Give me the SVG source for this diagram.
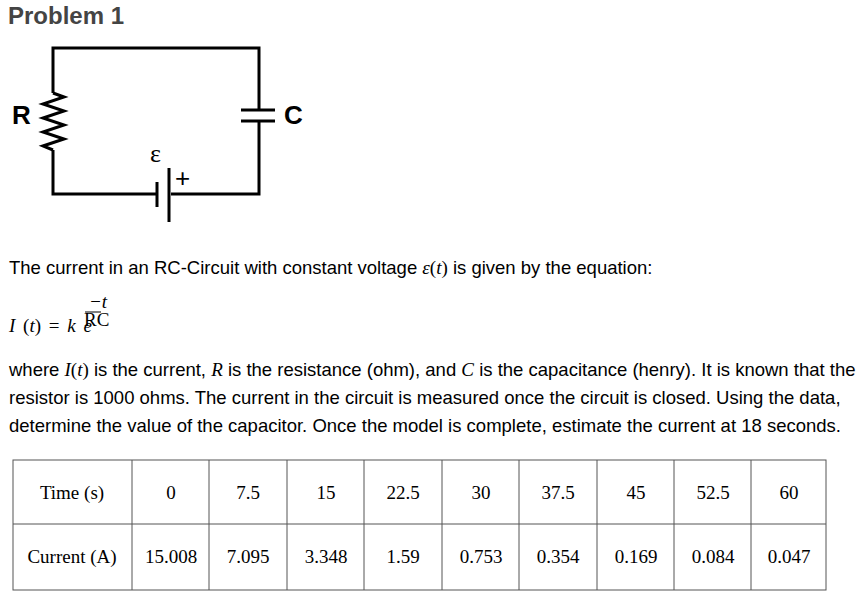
<svg xmlns="http://www.w3.org/2000/svg" width="864" height="605" viewBox="0 0 864 605">
<style>
.w{fill:none;stroke:#000;stroke-width:3}
.s{font-family:"Liberation Sans",Arial,sans-serif;font-size:18.5px;fill:#000}
.m{font-family:"Liberation Serif","Times New Roman",serif;font-size:19px;fill:#000}
.g{stroke:#555;stroke-width:1;fill:none}
</style>
<rect width="864" height="605" fill="#fff"/>
<text x="8" y="24" font-family="Liberation Sans,Arial,sans-serif" font-weight="bold" font-size="24" fill="#444">Problem 1</text>
<g id="circuit">
<path class="w" d="M53,93 V48 H259 V110 M259,121 V194 H171 M157,194 H53 V150"/>
<path class="w" d="M53,93 L64,97 L43,104 L64,111 L43,118 L64,125 L43,132 L64,139 L43,146 L53,150"/>
<path class="w" d="M241,110 H275 M241,121 H275"/>
<path class="w" d="M157,182 V207 M169,168 V222"/>
</g>
<text x="12" y="124" font-family="Liberation Sans,Arial,sans-serif" font-weight="bold" font-size="26">R</text>
<text x="284" y="124" font-family="Liberation Sans,Arial,sans-serif" font-weight="bold" font-size="26">C</text>
<text x="150" y="162" font-family="Liberation Serif,serif" font-size="26">ε</text>
<text x="175" y="187" font-family="Liberation Sans,Arial,sans-serif" font-size="26">+</text>
<text class="s" x="9" y="274">The current in an RC-Circuit with constant voltage <tspan class="m" font-style="italic">ε</tspan><tspan class="m">(</tspan><tspan class="m" font-style="italic">t</tspan><tspan class="m">)</tspan> is given by the equation:</text>
<text class="m" x="9" y="332" word-spacing="3"><tspan font-style="italic">I</tspan> (<tspan font-style="italic">t</tspan>) = <tspan font-style="italic">k</tspan> <tspan font-style="italic">e</tspan></text>
<text class="m" x="89" y="308" font-size="10" font-style="italic">−t</text>
<line x1="85" y1="312" x2="101" y2="312" stroke="#000" stroke-width="1"/>
<text class="m" x="84" y="326" font-size="12">RC</text>
<text class="s" x="9" y="376">where <tspan class="m" font-style="italic">I</tspan><tspan class="m">(</tspan><tspan class="m" font-style="italic">t</tspan><tspan class="m">)</tspan> is the current, <tspan class="m" font-style="italic">R</tspan> is the resistance (ohm), and <tspan class="m" font-style="italic">C</tspan> is the capacitance (henry). It is known that the</text>
<text class="s" x="9" y="404">resistor is 1000 ohms. The current in the circuit is measured once the circuit is closed. Using the data,</text>
<text class="s" x="9" y="432">determine the value of the capacitor. Once the model is complete, estimate the current at 18 seconds.</text>
<g id="table">
<rect class="g" x="13" y="460" width="813" height="130"/>
<path class="g" d="M13,524 H826 M132,460 V590 M209,460 V590 M287,460 V590 M364,460 V590 M442,460 V590 M519,460 V590 M597,460 V590 M674,460 V590 M751,460 V590"/>
<g class="m" text-anchor="middle">
<text x="72" y="499">Time (s)</text><text x="171" y="499">0</text><text x="248" y="499">7.5</text><text x="326" y="499">15</text><text x="403" y="499">22.5</text><text x="481" y="499">30</text><text x="558" y="499">37.5</text><text x="636" y="499">45</text><text x="713" y="499">52.5</text><text x="789" y="499">60</text>
<text x="72" y="563">Current (A)</text><text x="171" y="563">15.008</text><text x="248" y="563">7.095</text><text x="326" y="563">3.348</text><text x="403" y="563">1.59</text><text x="481" y="563">0.753</text><text x="558" y="563">0.354</text><text x="636" y="563">0.169</text><text x="713" y="563">0.084</text><text x="789" y="563">0.047</text>
</g>
</g>
</svg>
